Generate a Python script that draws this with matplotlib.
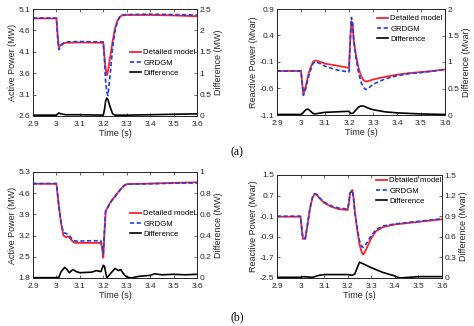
import matplotlib
matplotlib.use("Agg")
import matplotlib.pyplot as plt

plt.rcParams["font.family"] = ["Liberation Sans", "DejaVu Sans"]

# ---- data ----
# (a) active power
ta_p = [2.9, 3.0, 3.005, 3.01, 3.02, 3.03, 3.04, 3.1, 3.2, 3.205, 3.21, 3.215, 3.22,
        3.23, 3.24, 3.25, 3.26, 3.27, 3.28, 3.3, 3.4, 3.5, 3.6]
a_p_det = [4.88, 4.88, 4.5, 4.21, 4.27, 4.3, 4.31, 4.32, 4.31, 4.0, 3.7, 3.55, 3.65,
           4.0, 4.35, 4.65, 4.82, 4.91, 4.95, 4.96, 4.96, 4.95, 4.93]
a_p_grd = [4.89, 4.89, 4.45, 4.15, 4.24, 4.3, 4.33, 4.34, 4.33, 3.9, 3.4, 3.15, 3.08,
           3.6, 4.2, 4.6, 4.8, 4.92, 4.96, 4.97, 4.98, 4.97, 4.96]
a_p_diff = [0.02, 0.02, 0.04, 0.07, 0.05, 0.04, 0.03, 0.03, 0.02, 0.15, 0.35, 0.42, 0.38,
            0.2, 0.05, 0.02, 0.02, 0.02, 0.02, 0.02, 0.03, 0.04, 0.05]

# (a) reactive power
ta_q = [2.9, 3.0, 3.005, 3.01, 3.02, 3.03, 3.04, 3.05, 3.06, 3.07, 3.1, 3.15, 3.2,
        3.205, 3.21, 3.215, 3.22, 3.23, 3.24, 3.25, 3.26, 3.27, 3.28, 3.3, 3.35,
        3.4, 3.45, 3.5, 3.55, 3.6]
a_q_det = [-0.27, -0.27, -0.5, -0.71, -0.55, -0.35, -0.2, -0.1, -0.07, -0.08, -0.13,
           -0.17, -0.21, 0.3, 0.67, 0.6, 0.3, 0.0, -0.22, -0.36, -0.44, -0.47, -0.46,
           -0.43, -0.38, -0.34, -0.31, -0.29, -0.27, -0.24]
a_q_grd = [-0.27, -0.27, -0.5, -0.73, -0.6, -0.4, -0.25, -0.13, -0.09, -0.11, -0.18,
           -0.25, -0.29, 0.3, 0.74, 0.65, 0.3, -0.05, -0.3, -0.48, -0.58, -0.62, -0.6,
           -0.52, -0.42, -0.36, -0.32, -0.3, -0.27, -0.24]
a_q_diff = [0.01, 0.01, 0.02, 0.05, 0.1, 0.11, 0.07, 0.03, 0.02, 0.03, 0.05, 0.06, 0.07,
            0.04, 0.03, 0.03, 0.05, 0.1, 0.15, 0.17, 0.17, 0.15, 0.13, 0.1, 0.06, 0.04,
            0.03, 0.02, 0.015, 0.01]

# (b) active power
tb_p = [2.9, 3.0, 3.01, 3.02, 3.03, 3.04, 3.05, 3.06, 3.07, 3.08, 3.1, 3.15, 3.19,
        3.195, 3.2, 3.205, 3.21, 3.22, 3.23, 3.24, 3.25, 3.26, 3.27, 3.28, 3.29, 3.3,
        3.35, 3.4, 3.5, 3.6]
b_p_det = [4.91, 4.91, 4.2, 3.6, 3.2, 3.15, 3.17, 3.1, 3.0, 2.96, 2.96, 2.96, 2.96,
           2.8, 2.47, 3.3, 4.0, 4.15, 4.3, 4.4, 4.5, 4.6, 4.7, 4.78, 4.85, 4.9, 4.91,
           4.92, 4.94, 4.96]
b_p_grd = [4.92, 4.92, 4.2, 3.6, 3.3, 3.27, 3.25, 3.15, 3.05, 3.02, 3.02, 3.03, 3.03,
           2.85, 2.6, 3.35, 4.02, 4.15, 4.28, 4.4, 4.48, 4.6, 4.68, 4.8, 4.86, 4.9, 4.9,
           4.91, 4.93, 4.94]
tb_p_d = [2.9, 3.0, 3.01, 3.02, 3.035, 3.045, 3.055, 3.07, 3.085, 3.1, 3.15, 3.17, 3.19,
          3.2, 3.205, 3.215, 3.23, 3.25, 3.265, 3.275, 3.28, 3.29, 3.3, 3.32, 3.35, 3.4,
          3.42, 3.45, 3.5, 3.55, 3.6]
b_p_diff = [0.003, 0.003, 0.005, 0.06, 0.1, 0.08, 0.05, 0.08, 0.06, 0.05, 0.055, 0.07,
            0.06, 0.12, 0.11, 0.0, 0.04, 0.09, 0.07, 0.08, 0.06, 0.03, 0.01, 0.0, 0.015,
            0.025, 0.04, 0.03, 0.035, 0.03, 0.035]

# (b) reactive power
tb_q = [2.9, 3.0, 3.005, 3.01, 3.02, 3.03, 3.04, 3.05, 3.06, 3.07, 3.08, 3.1, 3.13,
        3.16, 3.2, 3.205, 3.21, 3.22, 3.225, 3.23, 3.24, 3.25, 3.26, 3.265, 3.27, 3.28,
        3.3, 3.32, 3.35, 3.4, 3.5, 3.6]
b_q_det = [-0.12, -0.12, -0.6, -0.98, -0.98, -0.4, 0.2, 0.6, 0.77, 0.72, 0.6, 0.42,
           0.27, 0.18, 0.14, 0.4, 0.8, 0.92, 0.6, 0.1, -0.6, -1.2, -1.52, -1.58, -1.55,
           -1.35, -0.95, -0.68, -0.52, -0.42, -0.32, -0.22]
b_q_grd = [-0.1, -0.1, -0.58, -0.96, -0.96, -0.38, 0.22, 0.62, 0.78, 0.73, 0.62, 0.45,
           0.3, 0.22, 0.18, 0.42, 0.8, 0.9, 0.55, 0.05, -0.55, -1.05, -1.28, -1.31,
           -1.28, -1.15, -0.85, -0.62, -0.48, -0.4, -0.3, -0.2]
tb_q_d = [2.9, 3.0, 3.01, 3.05, 3.08, 3.1, 3.2, 3.22, 3.23, 3.25, 3.27, 3.3, 3.35, 3.4,
          3.42, 3.5, 3.6]
b_q_diff = [0.01, 0.01, 0.02, 0.01, 0.04, 0.05, 0.05, 0.04, 0.06, 0.23, 0.2, 0.15, 0.08,
            0.03, 0.0, 0.02, 0.02]

x_ticks = [2.9, 3.0, 3.1, 3.2, 3.3, 3.4, 3.5, 3.6]
x_labels = ["2.9", "3", "3.1", "3.2", "3.3", "3.4", "3.5", "3.6"]

W, H = 474, 326
fig = plt.figure(figsize=(W / 100, H / 100), dpi=100)
FS = 6.0
RED, BLUE = "#ff1f2e", "#1f3fe0"


def panel(px, t, det, grd, td, diff, ylim, yticks, ylab, rlim, rticks, rlab, legpos):
    l, t0, r, b = px
    ax = fig.add_axes([l / W, 1 - b / H, (r - l) / W, (b - t0) / H])
    ax.plot(t, det, color=RED, lw=1.3, label="Detailed model")
    ax.plot(t, grd, color=BLUE, lw=1.2, ls=(0, (2.5, 1.5)), label="GRDGM")
    ax.set_xlim(2.9, 3.6)
    ax.set_ylim(*ylim)
    ax.set_xticks(x_ticks)
    ax.set_xticklabels(x_labels)
    ax.set_yticks(yticks)
    ax.set_yticklabels([("%g" % v) for v in yticks])
    ax.set_ylabel(ylab, fontsize=FS + 0.5, labelpad=1, color="#262626")
    ax.set_xlabel("Time (s)", fontsize=FS + 0.5, labelpad=1, color="#262626")
    ax.tick_params(direction="in", labelsize=FS, length=2, width=0.5, pad=2,
                   colors="#262626", top=True)
    ax.tick_params(axis="x", pad=3.5)
    ax2 = ax.twinx()
    ax2.plot(td, diff, color="black", lw=1.2, label="Difference")
    ax2.set_ylim(*rlim)
    ax2.set_yticks(rticks)
    ax2.set_yticklabels([("%g" % v) for v in rticks])
    ax2.set_ylabel(rlab, fontsize=FS + 0.5, labelpad=2, color="#262626")
    ax2.tick_params(direction="in", labelsize=FS, length=2, width=0.5, pad=2,
                    colors="#262626")
    for a in (ax, ax2):
        for s in a.spines.values():
            s.set_linewidth(0.6)
            s.set_color("#262626")
    h1, l1 = ax.get_legend_handles_labels()
    h2, l2 = ax2.get_legend_handles_labels()
    ax2.legend(h1 + h2, l1 + l2, loc="upper left",
               bbox_to_anchor=((legpos[0] - l) / (r - l), 1 - (legpos[1] - t0) / (b - t0)),
               frameon=False, fontsize=5.6, handlelength=1.4, handletextpad=0.3,
               labelspacing=0.35, borderpad=0, borderaxespad=0)


panel((33, 9, 197, 116), ta_p, a_p_det, a_p_grd, ta_p, a_p_diff,
      (2.6, 5.1), [2.6, 3.1, 3.6, 4.1, 4.6, 5.1], "Active Power (MW)",
      (0, 2.5), [0, 0.5, 1, 1.5, 2, 2.5], "Difference (MW)", (130, 49))
panel((277, 9, 445, 115), ta_q, a_q_det, a_q_grd, ta_q, a_q_diff,
      (-1.1, 0.9), [-1.1, -0.6, -0.1, 0.4, 0.9], "Reactive Power (Mvar)",
      (0, 2), [0, 0.5, 1, 1.5, 2], "Difference (Mvar)", (377, 15))
panel((33, 172, 197, 278), tb_p, b_p_det, b_p_grd, tb_p_d, b_p_diff,
      (1.8, 5.3), [1.8, 2.5, 3.2, 3.9, 4.6, 5.3], "Active Power (MW)",
      (0, 1), [0, 0.2, 0.4, 0.6, 0.8, 1], "Difference (MW)", (130, 210))
panel((277, 175, 442, 278), tb_q, b_q_det, b_q_grd, tb_q_d, b_q_diff,
      (-2.5, 1.5), [-2.5, -1.7, -0.9, -0.1, 0.7, 1.5], "Reactive Power (Mvar)",
      (0, 1.5), [0, 0.3, 0.6, 0.9, 1.2, 1.5], "Difference (Mvar)", (376, 177))

fig.text(237 / W, 1 - 152 / H, "(a)", fontsize=8.5, family="Liberation Serif",
         ha="center", va="center")
fig.text(237 / W, 1 - 317 / H, "(b)", fontsize=8.5, family="Liberation Serif",
         ha="center", va="center")

fig.savefig("out.png", dpi=100)
